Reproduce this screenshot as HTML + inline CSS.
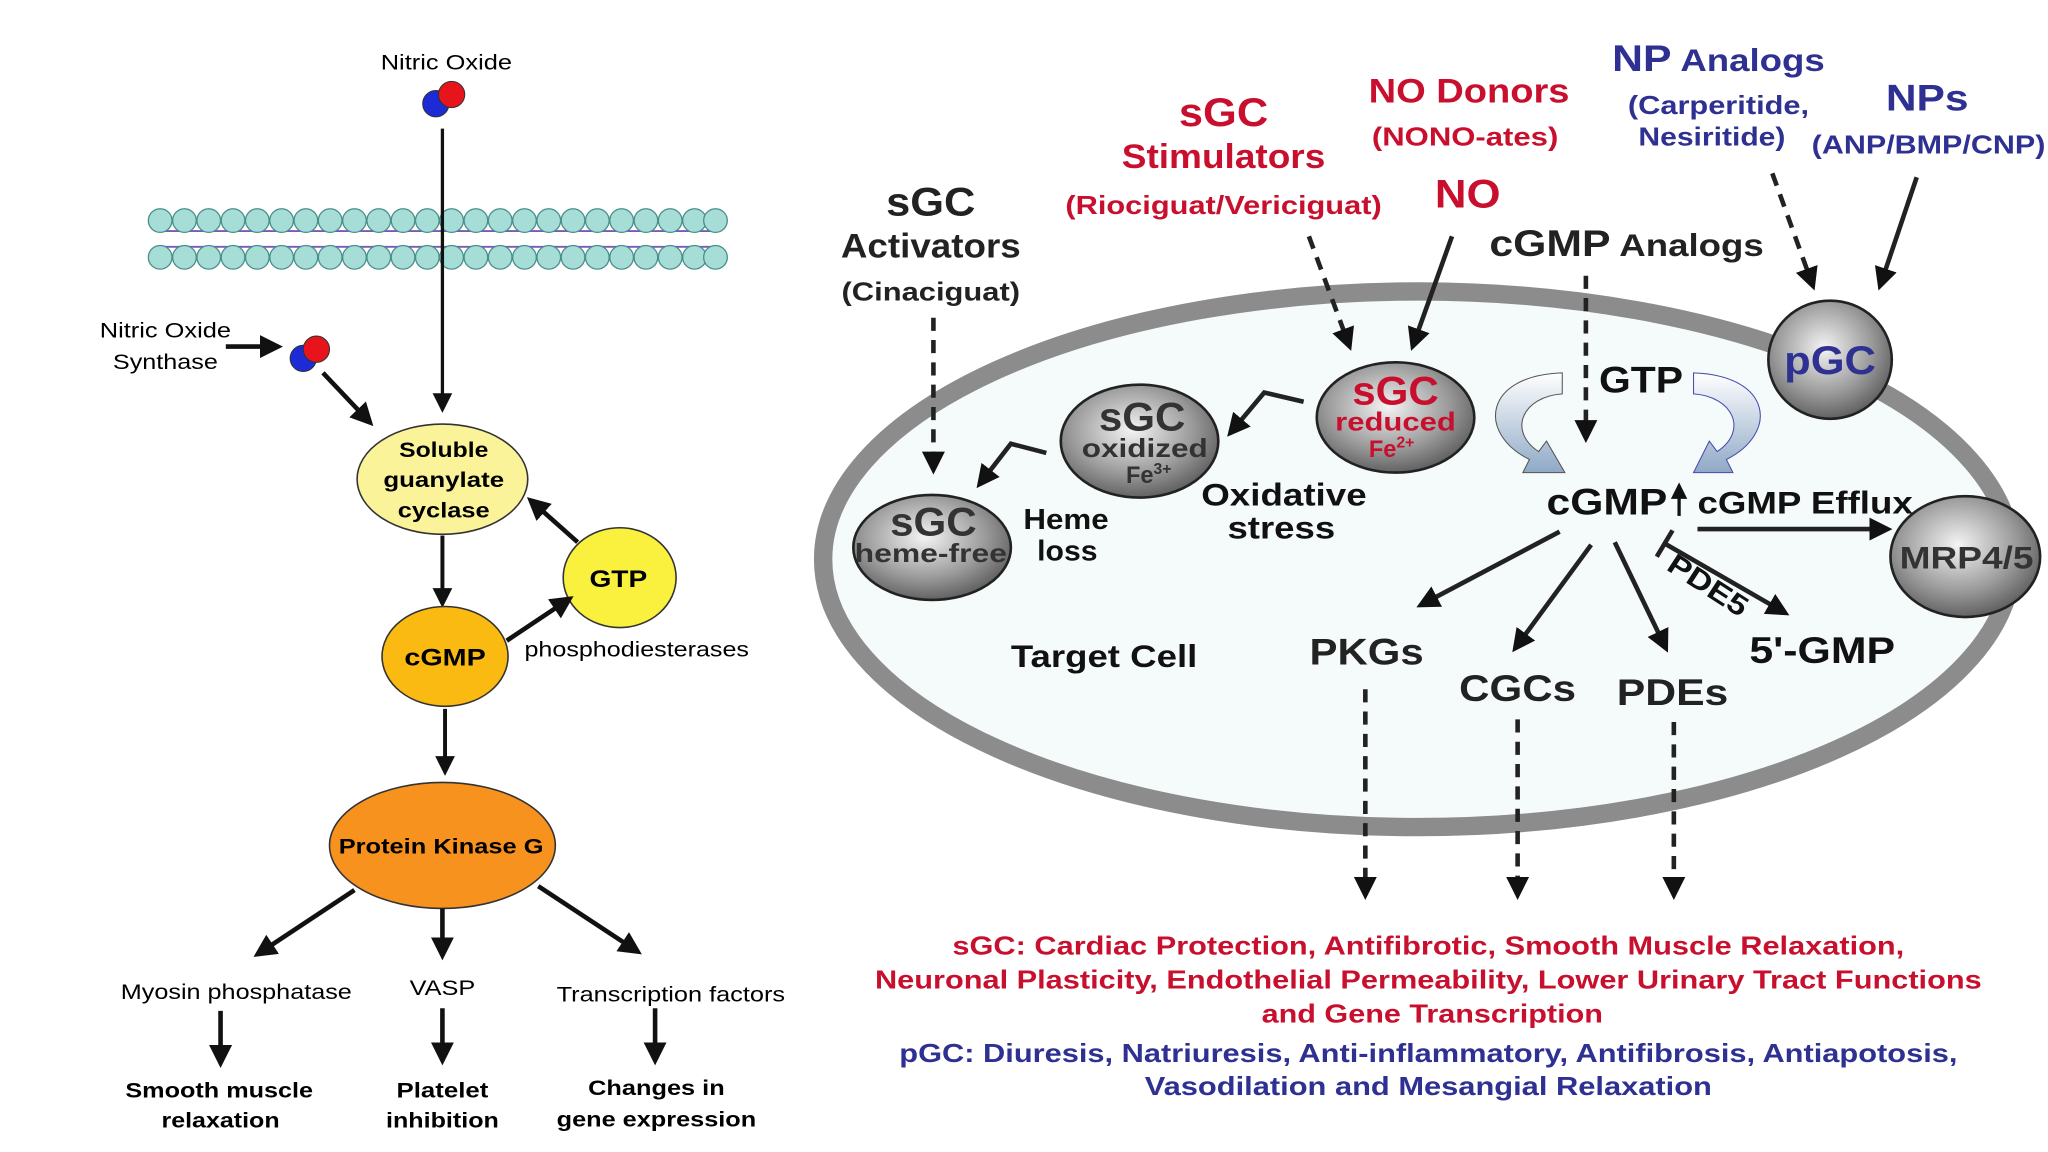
<!DOCTYPE html>
<html><head><meta charset="utf-8"><style>
html,body{margin:0;padding:0;background:#fff;}
svg{display:block;}
text{font-family:"Liberation Sans Narrow","Liberation Sans",sans-serif;text-anchor:middle;}
</style></head><body>
<svg width="2048" height="1152" viewBox="0 0 1560 877.5" preserveAspectRatio="none" xmlns="http://www.w3.org/2000/svg">
<defs>
<marker id="ah" markerWidth="6" markerHeight="6" refX="5" refY="3" orient="auto" markerUnits="strokeWidth"><path d="M0,0 L6,3 L0,6 z" fill="#111"/></marker>
<marker id="ah2" markerWidth="5" markerHeight="5" refX="4" refY="2.5" orient="auto" markerUnits="strokeWidth"><path d="M0,0 L5,2.5 L0,5 z" fill="#111"/></marker>
<radialGradient id="sph" cx="0.45" cy="0.4" r="0.65"><stop offset="0" stop-color="#f4f4f4"/><stop offset="0.6" stop-color="#9a9a9a"/><stop offset="1" stop-color="#555"/></radialGradient>
<linearGradient id="cur" x1="0" y1="0" x2="0" y2="1"><stop offset="0" stop-color="#fff"/><stop offset="1" stop-color="#8fa9c6"/></linearGradient>
</defs>

<!-- LEFT PANEL -->
<text x="340" y="53" font-size="16" textLength="100" lengthAdjust="spacingAndGlyphs">Nitric Oxide</text>
<circle cx="332" cy="79" r="10" fill="#1d2bd6" stroke="#333" stroke-width="0.8"/>
<circle cx="344" cy="72" r="10" fill="#e8141b" stroke="#333" stroke-width="0.8"/>
<g stroke="#7b58b8" stroke-width="1.5">
<line x1="120" y1="176" x2="548" y2="176"/><line x1="120" y1="188" x2="548" y2="188"/>
</g>
<g fill="#a6ddd6" stroke="#4a8f8a" stroke-width="1">
<circle cx="122" cy="168" r="9"/><circle cx="140.5" cy="168" r="9"/><circle cx="159" cy="168" r="9"/><circle cx="177.5" cy="168" r="9"/><circle cx="196" cy="168" r="9"/><circle cx="214.5" cy="168" r="9"/><circle cx="233" cy="168" r="9"/><circle cx="251.5" cy="168" r="9"/><circle cx="270" cy="168" r="9"/><circle cx="288.5" cy="168" r="9"/><circle cx="307" cy="168" r="9"/><circle cx="325.5" cy="168" r="9"/><circle cx="344" cy="168" r="9"/><circle cx="362.5" cy="168" r="9"/><circle cx="381" cy="168" r="9"/><circle cx="399.5" cy="168" r="9"/><circle cx="418" cy="168" r="9"/><circle cx="436.5" cy="168" r="9"/><circle cx="455" cy="168" r="9"/><circle cx="473.5" cy="168" r="9"/><circle cx="492" cy="168" r="9"/><circle cx="510.5" cy="168" r="9"/><circle cx="529" cy="168" r="9"/><circle cx="545" cy="168" r="9"/>
<circle cx="122" cy="196" r="9"/><circle cx="140.5" cy="196" r="9"/><circle cx="159" cy="196" r="9"/><circle cx="177.5" cy="196" r="9"/><circle cx="196" cy="196" r="9"/><circle cx="214.5" cy="196" r="9"/><circle cx="233" cy="196" r="9"/><circle cx="251.5" cy="196" r="9"/><circle cx="270" cy="196" r="9"/><circle cx="288.5" cy="196" r="9"/><circle cx="307" cy="196" r="9"/><circle cx="325.5" cy="196" r="9"/><circle cx="344" cy="196" r="9"/><circle cx="362.5" cy="196" r="9"/><circle cx="381" cy="196" r="9"/><circle cx="399.5" cy="196" r="9"/><circle cx="418" cy="196" r="9"/><circle cx="436.5" cy="196" r="9"/><circle cx="455" cy="196" r="9"/><circle cx="473.5" cy="196" r="9"/><circle cx="492" cy="196" r="9"/><circle cx="510.5" cy="196" r="9"/><circle cx="529" cy="196" r="9"/><circle cx="545" cy="196" r="9"/>
</g>
<line x1="337" y1="98" x2="337" y2="312" stroke="#111" stroke-width="2.5" marker-end="url(#ah)"/>
<text x="126" y="257" font-size="16" textLength="100" lengthAdjust="spacingAndGlyphs">Nitric Oxide</text>
<text x="126" y="281" font-size="16" textLength="80" lengthAdjust="spacingAndGlyphs">Synthase</text>
<line x1="172" y1="264" x2="212" y2="264" stroke="#111" stroke-width="3.5" marker-end="url(#ah2)"/>
<circle cx="231" cy="273" r="10" fill="#1d2bd6" stroke="#333" stroke-width="0.8"/>
<circle cx="241" cy="266" r="10" fill="#e8141b" stroke="#333" stroke-width="0.8"/>
<line x1="246" y1="284" x2="282" y2="322" stroke="#111" stroke-width="3.5" marker-end="url(#ah2)"/>
<ellipse cx="337" cy="365" rx="65" ry="42" fill="#fbf39a" stroke="#333" stroke-width="1.2"/>
<text x="338" y="348" font-size="16" font-weight="bold" textLength="68" lengthAdjust="spacingAndGlyphs">Soluble</text>
<text x="338" y="371" font-size="16" font-weight="bold" textLength="92" lengthAdjust="spacingAndGlyphs">guanylate</text>
<text x="338" y="394" font-size="16" font-weight="bold" textLength="70" lengthAdjust="spacingAndGlyphs">cyclase</text>
<line x1="337" y1="408" x2="337" y2="460" stroke="#111" stroke-width="3" marker-end="url(#ah2)"/>
<ellipse cx="472" cy="440" rx="43" ry="38" fill="#f9f13e" stroke="#333" stroke-width="1.2"/>
<text x="471" y="447" font-size="18" font-weight="bold" textLength="44" lengthAdjust="spacingAndGlyphs">GTP</text>
<line x1="440" y1="413" x2="404" y2="381" stroke="#111" stroke-width="3.5" marker-end="url(#ah2)"/>
<ellipse cx="339" cy="500" rx="48" ry="38" fill="#fbba12" stroke="#333" stroke-width="1.2"/>
<text x="339" y="507" font-size="18" font-weight="bold" textLength="62" lengthAdjust="spacingAndGlyphs">cGMP</text>
<line x1="386" y1="488" x2="434" y2="456" stroke="#111" stroke-width="3.5" marker-end="url(#ah2)"/>
<text x="485" y="500" font-size="16" textLength="171" lengthAdjust="spacingAndGlyphs">phosphodiesterases</text>
<line x1="339" y1="540" x2="339" y2="588" stroke="#111" stroke-width="3" marker-end="url(#ah2)"/>
<ellipse cx="337" cy="644" rx="86" ry="48" fill="#f7921e" stroke="#333" stroke-width="1.2"/>
<text x="336" y="650" font-size="16" font-weight="bold" textLength="156" lengthAdjust="spacingAndGlyphs">Protein Kinase G</text>
<line x1="270" y1="678" x2="196" y2="727" stroke="#111" stroke-width="3.5" marker-end="url(#ah2)"/>
<line x1="337" y1="692" x2="337" y2="728" stroke="#111" stroke-width="3.5" marker-end="url(#ah2)"/>
<line x1="410" y1="675" x2="486" y2="725" stroke="#111" stroke-width="3.5" marker-end="url(#ah2)"/>
<text x="180" y="761" font-size="16" textLength="176" lengthAdjust="spacingAndGlyphs">Myosin phosphatase</text>
<text x="337" y="758" font-size="16" textLength="50" lengthAdjust="spacingAndGlyphs">VASP</text>
<text x="511" y="763" font-size="16" textLength="174" lengthAdjust="spacingAndGlyphs">Transcription factors</text>
<line x1="168" y1="770" x2="168" y2="810" stroke="#111" stroke-width="3.5" marker-end="url(#ah2)"/>
<line x1="337" y1="768" x2="337" y2="808" stroke="#111" stroke-width="3.5" marker-end="url(#ah2)"/>
<line x1="499" y1="768" x2="499" y2="808" stroke="#111" stroke-width="3.5" marker-end="url(#ah2)"/>
<g font-size="16" font-weight="bold">
<text x="167" y="836" textLength="143" lengthAdjust="spacingAndGlyphs">Smooth muscle</text><text x="168" y="859" textLength="90" lengthAdjust="spacingAndGlyphs">relaxation</text>
<text x="337" y="836" textLength="70" lengthAdjust="spacingAndGlyphs">Platelet</text><text x="337" y="859" textLength="86" lengthAdjust="spacingAndGlyphs">inhibition</text>
<text x="500" y="834" textLength="104" lengthAdjust="spacingAndGlyphs">Changes in</text><text x="500" y="858" textLength="152" lengthAdjust="spacingAndGlyphs">gene expression</text>
</g>

<!-- RIGHT PANEL -->
<ellipse cx="1080" cy="426" rx="453" ry="204" fill="#f5fbfb" stroke="#8c8c8c" stroke-width="14"/>
<g font-weight="bold">
<text x="709" y="164" font-size="30" fill="#222" textLength="68" lengthAdjust="spacingAndGlyphs">sGC</text>
<text x="709" y="196" font-size="26" fill="#222" textLength="137" lengthAdjust="spacingAndGlyphs">Activators</text>
<text x="709" y="229" font-size="20" fill="#222" textLength="136" lengthAdjust="spacingAndGlyphs">(Cinaciguat)</text>
<text x="932" y="96" font-size="30" fill="#c8102e" textLength="68" lengthAdjust="spacingAndGlyphs">sGC</text>
<text x="932" y="128" font-size="26" fill="#c8102e" textLength="155" lengthAdjust="spacingAndGlyphs">Stimulators</text>
<text x="932" y="163" font-size="20" fill="#c8102e" textLength="241" lengthAdjust="spacingAndGlyphs">(Riociguat/Vericiguat)</text>
<text x="1119" y="78" font-size="26" fill="#c8102e" textLength="153" lengthAdjust="spacingAndGlyphs">NO Donors</text>
<text x="1116" y="111" font-size="20" fill="#c8102e" textLength="142" lengthAdjust="spacingAndGlyphs">(NONO-ates)</text>
<text x="1118" y="158" font-size="30" fill="#c8102e" textLength="50" lengthAdjust="spacingAndGlyphs">NO</text>
<text x="1239" y="195" fill="#222" textLength="209" lengthAdjust="spacingAndGlyphs"><tspan font-size="28">cGMP</tspan><tspan font-size="24"> Analogs</tspan></text>
<text x="1309" y="54" fill="#2e3192" textLength="162" lengthAdjust="spacingAndGlyphs"><tspan font-size="28">NP</tspan><tspan font-size="24"> Analogs</tspan></text>
<text x="1309" y="87" font-size="20" fill="#2e3192" textLength="138" lengthAdjust="spacingAndGlyphs">(Carperitide,</text>
<text x="1304" y="111" font-size="20" fill="#2e3192" textLength="112" lengthAdjust="spacingAndGlyphs">Nesiritide)</text>
<text x="1468" y="84" font-size="28" fill="#2e3192" textLength="63" lengthAdjust="spacingAndGlyphs">NPs</text>
<text x="1469" y="117" font-size="20" fill="#2e3192" textLength="178" lengthAdjust="spacingAndGlyphs">(ANP/BMP/CNP)</text>
</g>
<g stroke="#222" stroke-width="3.5">
<line x1="711" y1="242" x2="711" y2="358" stroke-dasharray="10,7" marker-end="url(#ah2)"/>
<line x1="997" y1="180" x2="1028" y2="264" stroke-dasharray="10,7" marker-end="url(#ah2)"/>
<line x1="1106" y1="180" x2="1076" y2="264" marker-end="url(#ah2)"/>
<line x1="1208" y1="210" x2="1208" y2="334" stroke-dasharray="10,7" marker-end="url(#ah2)"/>
<line x1="1350" y1="132" x2="1381" y2="218" stroke-dasharray="10,7" marker-end="url(#ah2)"/>
<line x1="1460" y1="135" x2="1432" y2="218" marker-end="url(#ah2)"/>
</g>
<ellipse cx="1394" cy="274" rx="47" ry="45" fill="url(#sph)" stroke="#222" stroke-width="2"/>
<text x="1394" y="285" font-size="30" font-weight="bold" fill="#2e3192" textLength="70" lengthAdjust="spacingAndGlyphs">pGC</text>
<ellipse cx="1063" cy="318" rx="60" ry="42" fill="url(#sph)" stroke="#222" stroke-width="2"/>
<text x="1063" y="308" font-size="30" font-weight="bold" fill="#c8102e" textLength="66" lengthAdjust="spacingAndGlyphs">sGC</text>
<text x="1063" y="328" font-size="20" font-weight="bold" fill="#c8102e" textLength="92" lengthAdjust="spacingAndGlyphs">reduced</text>
<text x="1060" y="348" font-size="18" font-weight="bold" fill="#c8102e">Fe<tspan font-size="12" dy="-7">2+</tspan></text>
<ellipse cx="868" cy="336" rx="60" ry="43" fill="url(#sph)" stroke="#222" stroke-width="2"/>
<text x="870" y="328" font-size="30" font-weight="bold" fill="#333" textLength="66" lengthAdjust="spacingAndGlyphs">sGC</text>
<text x="872" y="348" font-size="20" font-weight="bold" fill="#333" textLength="96" lengthAdjust="spacingAndGlyphs">oxidized</text>
<text x="875" y="368" font-size="18" font-weight="bold" fill="#333">Fe<tspan font-size="12" dy="-7">3+</tspan></text>
<ellipse cx="710" cy="417" rx="60" ry="40" fill="url(#sph)" stroke="#222" stroke-width="2"/>
<text x="711" y="408" font-size="30" font-weight="bold" fill="#333" textLength="66" lengthAdjust="spacingAndGlyphs">sGC</text>
<text x="709" y="428" font-size="20" font-weight="bold" fill="#333" textLength="116" lengthAdjust="spacingAndGlyphs">heme-free</text>
<ellipse cx="1497" cy="424" rx="57" ry="46" fill="url(#sph)" stroke="#222" stroke-width="2"/>
<text x="1498" y="433" font-size="24" font-weight="bold" fill="#333" textLength="102" lengthAdjust="spacingAndGlyphs">MRP4/5</text>
<g stroke="#222" stroke-width="3.5" fill="none">
<polyline points="993,306 963,299 937,330" marker-end="url(#ah2)"/>
<polyline points="797,345 770,338 746,369" marker-end="url(#ah2)"/>
</g>
<g font-weight="bold" fill="#111">
<text x="978" y="385" font-size="24" textLength="126" lengthAdjust="spacingAndGlyphs">Oxidative</text>
<text x="976" y="410" font-size="24" textLength="82" lengthAdjust="spacingAndGlyphs">stress</text>
<text x="812" y="403" font-size="22" textLength="65" lengthAdjust="spacingAndGlyphs">Heme</text>
<text x="813" y="427" font-size="22" textLength="46" lengthAdjust="spacingAndGlyphs">loss</text>
<text x="1250" y="299" font-size="28" textLength="64" lengthAdjust="spacingAndGlyphs">GTP</text>
<text x="1224" y="392" font-size="28" textLength="92" lengthAdjust="spacingAndGlyphs">cGMP</text>
<text x="1375" y="391" font-size="24" textLength="164" lengthAdjust="spacingAndGlyphs">cGMP Efflux</text>
<text x="1388" y="505" font-size="28" textLength="111" lengthAdjust="spacingAndGlyphs">5'-GMP</text>
<text x="841" y="508" font-size="24" textLength="142" lengthAdjust="spacingAndGlyphs">Target Cell</text>
<text x="1041" y="506" font-size="28" fill="#222" textLength="87" lengthAdjust="spacingAndGlyphs">PKGs</text>
<text x="1156" y="534" font-size="28" fill="#222" textLength="89" lengthAdjust="spacingAndGlyphs">CGCs</text>
<text x="1274" y="537" font-size="28" fill="#222" textLength="85" lengthAdjust="spacingAndGlyphs">PDEs</text>
<text x="0" y="0" font-size="22" transform="translate(1297,452) rotate(33)" textLength="68" lengthAdjust="spacingAndGlyphs">PDE5</text>
</g>
<line x1="1279" y1="393" x2="1279" y2="370" stroke="#111" stroke-width="2.5" marker-end="url(#ah2)"/>
<path d="M1190,284 C1130,286 1125,330 1165,350 L1160,360 L1192,360 L1178,336 L1172,344 C1148,328 1160,302 1190,300 Z" fill="url(#cur)" stroke="#555" stroke-width="0.8"/>
<path d="M1290,284 C1350,286 1355,330 1315,350 L1320,360 L1290,360 L1302,336 L1308,344 C1332,328 1320,302 1290,300 Z" fill="url(#cur)" stroke="#4a4ab0" stroke-width="0.8"/>
<g stroke="#222" stroke-width="3.5">
<line x1="1293" y1="403" x2="1438" y2="403" marker-end="url(#ah2)"/>
<line x1="1188" y1="405" x2="1082" y2="461" marker-end="url(#ah2)"/>
<line x1="1212" y1="415" x2="1154" y2="494" marker-end="url(#ah2)"/>
<line x1="1230" y1="413" x2="1269" y2="494" marker-end="url(#ah2)"/>
<line x1="1268" y1="414" x2="1360" y2="467" marker-end="url(#ah2)"/>
<line x1="1262" y1="424" x2="1274" y2="404"/>
<line x1="1040" y1="525" x2="1040" y2="682" stroke-dasharray="10,7" marker-end="url(#ah2)"/>
<line x1="1156" y1="548" x2="1156" y2="682" stroke-dasharray="10,7" marker-end="url(#ah2)"/>
<line x1="1275" y1="550" x2="1275" y2="682" stroke-dasharray="10,7" marker-end="url(#ah2)"/>
</g>
<g font-size="20" font-weight="bold">
<text x="1088" y="727" fill="#c8102e" textLength="725" lengthAdjust="spacingAndGlyphs">sGC: Cardiac Protection, Antifibrotic, Smooth Muscle Relaxation,</text>
<text x="1088" y="753" fill="#c8102e" textLength="843" lengthAdjust="spacingAndGlyphs">Neuronal Plasticity, Endothelial Permeability, Lower Urinary Tract Functions</text>
<text x="1091" y="779" fill="#c8102e" textLength="260" lengthAdjust="spacingAndGlyphs">and Gene Transcription</text>
<text x="1088" y="809" fill="#2e3192" textLength="806" lengthAdjust="spacingAndGlyphs">pGC: Diuresis, Natriuresis, Anti-inflammatory, Antifibrosis, Antiapotosis,</text>
<text x="1088" y="834" fill="#2e3192" textLength="432" lengthAdjust="spacingAndGlyphs">Vasodilation and Mesangial Relaxation</text>
</g>
</svg>
</body></html>
